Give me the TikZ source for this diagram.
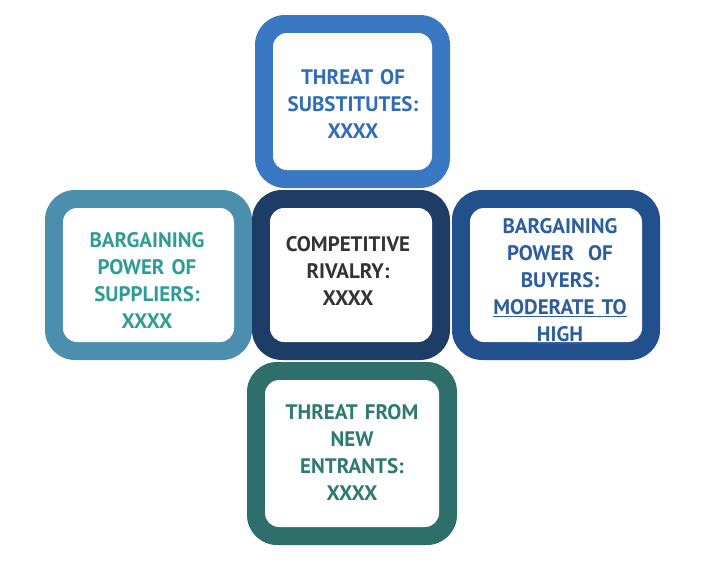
\documentclass[tikz,border=0pt]{standalone}
\usepackage{fontspec}
\setmainfont{PT Sans}
\begin{document}
\begin{tikzpicture}[x=1pt,y=-1pt,
  outer/.style={rounded corners=30pt},
  inner/.style={white,rounded corners=14pt},
  lbl/.style={font=\bfseries\fontsize{21}{27}\selectfont,align=center,text width=170pt}]
\useasboundingbox (0,0) rectangle (704,563);
\definecolor{ctop}{HTML}{3B78C4}
\definecolor{cleft}{HTML}{4C8EAD}
\definecolor{cmid}{HTML}{1D3C66}
\definecolor{cright}{HTML}{21508C}
\definecolor{cbot}{HTML}{2E6E6B}
\definecolor{tleft}{HTML}{2E9C97}
\definecolor{tbot}{HTML}{2E7A72}
\definecolor{ttop}{HTML}{2F6DB8}
\definecolor{tright}{HTML}{2C5E9E}
\fill[ctop,outer] (255,15) rectangle (450,188);
\fill[inner] (273,33) rectangle (432,170);
\fill[cbot,outer] (247,362) rectangle (457,545);
\fill[inner] (265,380) rectangle (439,527);
\fill[cleft,outer] (45,190) rectangle (252,360);
\fill[inner] (63,208) rectangle (234,342);
\fill[cright,outer] (452,190) rectangle (660,360);
\fill[inner] (470,208) rectangle (642,342);
\fill[cmid,outer] (252,190) rectangle (450,360);
\fill[inner] (270,208) rectangle (432,342);
\node[lbl,text=ttop] (top) at (353,104) {THREAT OF\\SUBSTITUTES:\\XXXX};
\node[lbl,text=tbot] (bot) at (352,452) {THREAT FROM\\NEW\\ENTRANTS:\\XXXX};
\node[lbl,text=tleft] (left) at (147,280) {BARGAINING\\POWER OF\\SUPPLIERS:\\XXXX};
\node[lbl,text=tright] (right) at (560,281) {BARGAINING\\POWER \ OF\\BUYERS:\\\underline{MODERATE TO}\\\underline{HIGH}};
\node[lbl,text=black!80] (mid) at (348,271) {COMPETITIVE\\RIVALRY:\\XXXX};
\end{tikzpicture}
\end{document}
